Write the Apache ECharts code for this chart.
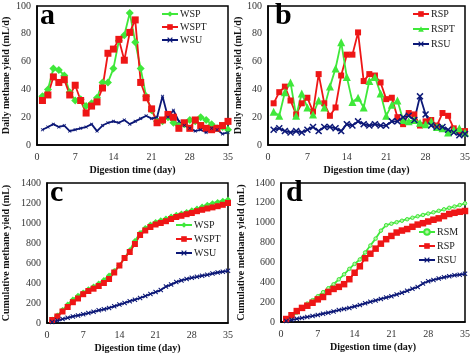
<!DOCTYPE html>
<html>
<head>
<meta charset="utf-8">
<script src="https://cdn.jsdelivr.net/npm/echarts@6/dist/echarts.min.js"></script>
<style>
  html, body { margin: 0; padding: 0; background: #fff; }
  #chart { width: 474px; height: 354px; }
</style>
</head>
<body>
<div id="chart"></div>
<script>
// days of digestion
const days = [1, 2, 3, 4, 5, 6, 7, 8, 9, 10, 11, 12, 13, 14, 15, 16, 17, 18, 19, 20,
  21, 22, 23, 24, 25, 26, 27, 28, 29, 30, 31, 32, 33, 34, 35];
const xTicks = [0, 7, 14, 21, 28, 35];

// (a) daily yield, wheat straw
const wsp = [35, 40, 55, 54, 50, 38, 32, 33, 28, 30, 34, 45, 45, 55, 75, 79, 95, 74, 55, 35,
  25, 17, 17, 20, 16, 14, 15, 18, 17, 20, 18, 15, 12, 13, 11];
const wspt = [32, 36, 49, 45, 47, 36, 43, 32, 23, 28, 31, 41, 66, 69, 76, 61, 81, 90, 45, 34,
  26, 16, 18, 22, 20, 12, 16, 12, 18, 14, 12, 11, 12, 14, 17];
const wsu = [11, 13, 15, 13, 14, 10, 11, 12, 13, 15, 10, 14, 16, 17, 16, 18, 15, 17, 19, 21,
  19, 20, 35, 20, 25, 17, 14, 12, 10, 11, 9, 12, 11, 8, 9];

// (b) daily yield, rice straw
const rsp = [30, 38, 42, 32, 22, 30, 34, 24, 51, 30, 21, 27, 50, 65, 65, 81, 46, 51, 50, 45,
  33, 34, 20, 15, 23, 22, 14, 17, 18, 14, 23, 21, 12, 10, 10];
const rspt = [24, 21, 38, 45, 21, 37, 27, 22, 32, 27, 42, 55, 74, 49, 31, 34, 27, 46, 49, 37,
  21, 29, 32, 18, 17, 18, 16, 15, 17, 13, 12, 9, 11, 12, 9];
const rsu = [11, 12, 10, 9, 10, 9, 11, 13, 10, 13, 13, 12, 10, 15, 14, 17, 15, 14, 15, 14,
  14, 17, 17, 20, 21, 18, 35, 22, 14, 13, 13, 11, 9, 7, 8];

// (c) cumulative yield, wheat straw
const cWsp = [35, 75, 130, 185, 235, 272, 305, 337, 365, 395, 430, 475, 520, 575, 650, 728, 820, 900, 950, 985,
  1010, 1028, 1045, 1065, 1082, 1096, 1110, 1128, 1145, 1165, 1183, 1198, 1210, 1222, 1235];
const cWspt = [30, 65, 115, 160, 208, 245, 288, 320, 343, 370, 400, 440, 505, 575, 650, 710, 790, 880, 925, 960,
  985, 1000, 1018, 1040, 1060, 1072, 1088, 1100, 1118, 1132, 1145, 1156, 1168, 1182, 1200];
const cWsu = [11, 24, 39, 52, 66, 76, 87, 99, 112, 127, 137, 151, 167, 184, 200, 218, 233, 250, 269, 290,
  309, 329, 364, 384, 409, 426, 440, 452, 462, 473, 482, 494, 505, 513, 522];

// (d) cumulative yield, rice straw
const cRsm = [20, 55, 95, 140, 185, 220, 260, 300, 340, 380, 430, 480, 535, 585, 630, 700, 770, 840, 920, 975,
  990, 1005, 1020, 1035, 1050, 1065, 1078, 1092, 1105, 1120, 1135, 1150, 1163, 1178, 1195];
const cRsp = [30, 68, 110, 142, 164, 194, 228, 252, 303, 333, 354, 381, 431, 496, 561, 642, 688, 739, 789, 834,
  867, 901, 921, 936, 959, 981, 995, 1012, 1030, 1044, 1067, 1088, 1100, 1110, 1118];
const cRsu = [10, 22, 32, 41, 51, 60, 71, 84, 94, 107, 120, 132, 142, 157, 171, 188, 203, 217, 232, 246,
  260, 277, 294, 314, 335, 353, 388, 410, 424, 437, 450, 461, 470, 477, 485];

const GREEN = "#3fe83a";
const RED = "#ee1616";
const NAVY = "#0c1877";
const FONT = "Liberation Serif";
const X_PATH = "path://M0,1.5L1.5,0L5,3.5L8.5,0L10,1.5L6.5,5L10,8.5L8.5,10L5,6.5L1.5,10L0,8.5L3.5,5Z";

const pairs = (vals) => vals.map((v, i) => [days[i], v]);

const grids = [
  { left: 36, right: 246, top: 6, bottom: 209 },
  { left: 268, right: 9, top: 6, bottom: 209 },
  { left: 46, right: 246, top: 183, bottom: 31 },
  { left: 281, right: 9, top: 183, bottom: 32 }
].map((g) => ({ ...g, show: true, borderColor: "#000", borderWidth: 1.5, backgroundColor: "transparent" }));

const xAxes = grids.map((_, i) => ({
  type: "value", gridIndex: i, min: 0, max: 35, interval: 7,
  name: "Digestion time (day)", nameLocation: "middle", nameGap: 20,
  nameTextStyle: { fontFamily: FONT, fontWeight: "bold", fontSize: 10, color: "#111" },
  axisLine: { lineStyle: { color: "#000", width: 1.5 } },
  axisTick: { show: false },
  axisLabel: { fontFamily: FONT, fontSize: 10, color: "#333", margin: 7,
    customValues: xTicks },
  splitLine: { show: false }
}));

const yAxes = [0, 1, 2, 3].map((i) => {
  const daily = i < 2;
  return {
    type: "value", gridIndex: i, min: 0, max: daily ? 100 : 1400, interval: daily ? 20 : 200,
    name: daily ? "Daily methane yield (mL/d)" : "Cumulative methane yield (mL)",
    nameLocation: "middle", nameGap: daily ? (i === 0 ? 26 : 22) : (i === 2 ? 36 : 35),
    nameTextStyle: { fontFamily: FONT, fontWeight: "bold", fontSize: 10, color: "#111" },
    axisLine: { show: true, lineStyle: { color: "#000", width: 1.5 } },
    axisTick: { show: false },
    axisLabel: { fontFamily: FONT, fontSize: 10, color: "#333", margin: 6, formatter: (v) => String(v) },
    splitLine: { show: false }
  };
});

function line(name, idx, data, color, symbol, size, width) {
  return {
    name, type: "line", xAxisIndex: idx, yAxisIndex: idx, data: pairs(data),
    symbol, symbolSize: size, showSymbol: true,
    lineStyle: { color, width: width || 1.8 },
    itemStyle: { color },
    animation: false
  };
}

const series = [
  line("WSP", 0, wsp, GREEN, "diamond", 8),
  line("WSPT", 0, wspt, RED, "rect", 7),
  line("WSU", 0, wsu, NAVY, X_PATH, 3.5),
  line("RSP", 1, rsp, RED, "rect", 6),
  line("RSPT", 1, rspt, GREEN, "triangle", 8),
  line("RSU", 1, rsu, NAVY, X_PATH, 7),
  line("WSP ", 2, cWsp, GREEN, "diamond", 6),
  line("WSPT ", 2, cWspt, RED, "rect", 6),
  line("WSU ", 2, cWsu, NAVY, X_PATH, 5),
  line("RSM", 3, cRsm, GREEN, "circle", 3.5),
  line("RSP ", 3, cRsp, RED, "rect", 6.5),
  line("RSU ", 3, cRsu, NAVY, X_PATH, 5)
];
series[9].itemStyle = { color: "#b8f5a8", borderColor: GREEN, borderWidth: 1 };

function legend(names, left, top, gap) {
  return {
    data: names, left, top, orient: "vertical", itemWidth: 16, itemHeight: 7, itemGap: gap,
    selectedMode: false, padding: 0,
    formatter: (n) => n.trim(),
    textStyle: { fontFamily: FONT, fontSize: 10, color: "#222", padding: [0, 0, 0, -3] }
  };
}

const legends = [
  legend(["WSP", "WSPT", "WSU"], 161, 9, 3),
  legend(["RSP", "RSPT", "RSU"], 412, 9, 5),
  legend(["WSP ", "WSPT ", "WSU "], 175, 220, 4),
  legend(["RSM", "RSP ", "RSU "], 418, 227, 4)
];

const letter = (text, left, top) => ({
  type: "text", left, top,
  style: { text, fontFamily: FONT, fontWeight: "bold", fontSize: 30, fill: "#000" }
});

const chart = echarts.init(document.getElementById("chart"), null, { renderer: "canvas" });
chart.setOption({
  animation: false,
  backgroundColor: "#fff",
  grid: grids,
  xAxis: xAxes,
  yAxis: yAxes,
  legend: legends,
  series,
  graphic: [
    letter("a", 40, 1),
    letter("b", 275, 1),
    letter("c", 50, 178),
    letter("d", 286, 178)
  ]
});
</script>
</body>
</html>
